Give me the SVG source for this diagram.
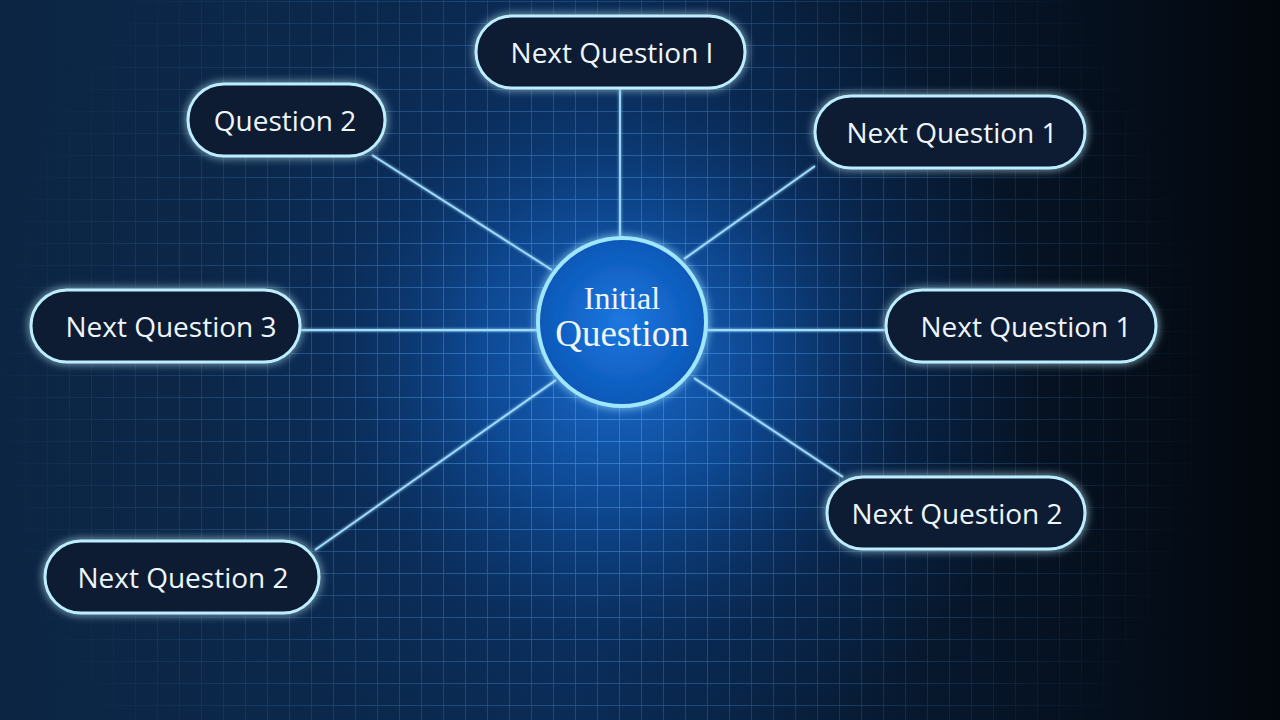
<svg xmlns="http://www.w3.org/2000/svg" width="1280" height="720" viewBox="0 0 1280 720">
  <defs>
    <linearGradient id="bgLin" x1="0" y1="0" x2="1" y2="0">
      <stop offset="0" stop-color="#0c2543"/>
      <stop offset="0.45" stop-color="#0a2a52"/>
      <stop offset="0.72" stop-color="#07182e"/>
      <stop offset="1" stop-color="#03070d"/>
    </linearGradient>
    <radialGradient id="glow" cx="620" cy="360" r="420" gradientUnits="userSpaceOnUse">
      <stop offset="0" stop-color="#1a6fd6" stop-opacity="0.95"/>
      <stop offset="0.35" stop-color="#0f55ad" stop-opacity="0.7"/>
      <stop offset="0.7" stop-color="#0a3570" stop-opacity="0.3"/>
      <stop offset="1" stop-color="#0a3570" stop-opacity="0"/>
    </radialGradient>
    <radialGradient id="gridFade" cx="600" cy="380" r="620" gradientUnits="userSpaceOnUse">
      <stop offset="0" stop-color="#fff" stop-opacity="1"/>
      <stop offset="0.55" stop-color="#fff" stop-opacity="0.5"/>
      <stop offset="1" stop-color="#fff" stop-opacity="0"/>
    </radialGradient>
    <mask id="gridMask">
      <rect width="1280" height="720" fill="url(#gridFade)"/>
    </mask>
    <pattern id="grid" x="4" y="2" width="22" height="22" patternUnits="userSpaceOnUse">
      <path d="M22 0V22M0 22H22" fill="none" stroke="#5aaaf5" stroke-width="1.3" stroke-opacity="0.7"/>
    </pattern>
    <radialGradient id="circleFill" cx="0.5" cy="0.5" r="0.5">
      <stop offset="0" stop-color="#1c78e0"/>
      <stop offset="1" stop-color="#0c58b8"/>
    </radialGradient>
    <filter id="soft" x="-30%" y="-60%" width="160%" height="220%">
      <feGaussianBlur in="SourceGraphic" stdDeviation="4" result="b"/>
      <feMerge><feMergeNode in="b"/><feMergeNode in="SourceGraphic"/></feMerge>
    </filter>
    <filter id="lineGlow" filterUnits="userSpaceOnUse" x="0" y="0" width="1280" height="720">
      <feGaussianBlur in="SourceGraphic" stdDeviation="1.5" result="b"/>
      <feMerge><feMergeNode in="b"/><feMergeNode in="SourceGraphic"/></feMerge>
    </filter>
    <style>
      .pill { fill: #0b1c33; stroke: #bdeeff; stroke-width: 3; filter: url(#soft); }
      .lbl { font-family: "Open Sans", "Liberation Sans", sans-serif; font-size: 28px; fill: #eef6fb; text-anchor: middle; dominant-baseline: central; }
      .ctr { font-family: "Liberation Serif", "DejaVu Serif", serif; fill: #eef6fb; text-anchor: middle; dominant-baseline: central; }
      .conn { stroke: #9fdcff; stroke-width: 1.8; fill: none; }
    </style>
  </defs>

  <rect width="1280" height="720" fill="url(#bgLin)"/>
  <rect width="1280" height="720" fill="url(#glow)"/>
  <rect width="1280" height="720" fill="url(#grid)" mask="url(#gridMask)"/>

  <g id="connectors" filter="url(#lineGlow)">
    <line class="conn" x1="620" y1="89" x2="620" y2="238"/>
    <line class="conn" x1="372" y1="155" x2="552" y2="270"/>
    <line class="conn" x1="815" y1="166" x2="684" y2="259"/>
    <line class="conn" x1="300" y1="330" x2="537" y2="330"/>
    <line class="conn" x1="707" y1="330" x2="886" y2="330"/>
    <line class="conn" x1="694" y1="378" x2="843" y2="477"/>
    <line class="conn" x1="315" y1="550" x2="556" y2="380"/>
  </g>

  <g id="center">
    <circle cx="622" cy="322" r="84" fill="url(#circleFill)" stroke="#9fe6ff" stroke-width="4" filter="url(#soft)"/>
    <text class="ctr" x="622" y="298" font-size="32">Initial</text>
    <text class="ctr" x="622" y="333" font-size="37">Question</text>
  </g>

  <g id="n-top">
    <rect class="pill" x="476" y="16" width="269" height="72" rx="36"/>
    <text class="lbl" x="612" y="52">Next Question I</text>
  </g>
  <g id="n-q2">
    <rect class="pill" x="188" y="84" width="197" height="72" rx="36"/>
    <text class="lbl" x="285" y="120">Question 2</text>
  </g>
  <g id="n-right-top">
    <rect class="pill" x="815" y="96" width="270" height="72" rx="36"/>
    <text class="lbl" x="952" y="132">Next Question 1</text>
  </g>
  <g id="n-left-mid">
    <rect class="pill" x="31" y="290" width="269" height="72" rx="36"/>
    <text class="lbl" x="171" y="326">Next Question 3</text>
  </g>
  <g id="n-right-mid">
    <rect class="pill" x="886" y="290" width="270" height="72" rx="36"/>
    <text class="lbl" x="1026" y="326">Next Question 1</text>
  </g>
  <g id="n-right-bottom">
    <rect class="pill" x="827" y="477" width="258" height="72" rx="36"/>
    <text class="lbl" x="957" y="513">Next Question 2</text>
  </g>
  <g id="n-left-bottom">
    <rect class="pill" x="45" y="541" width="274" height="72" rx="36"/>
    <text class="lbl" x="183" y="577">Next Question 2</text>
  </g>
</svg>
